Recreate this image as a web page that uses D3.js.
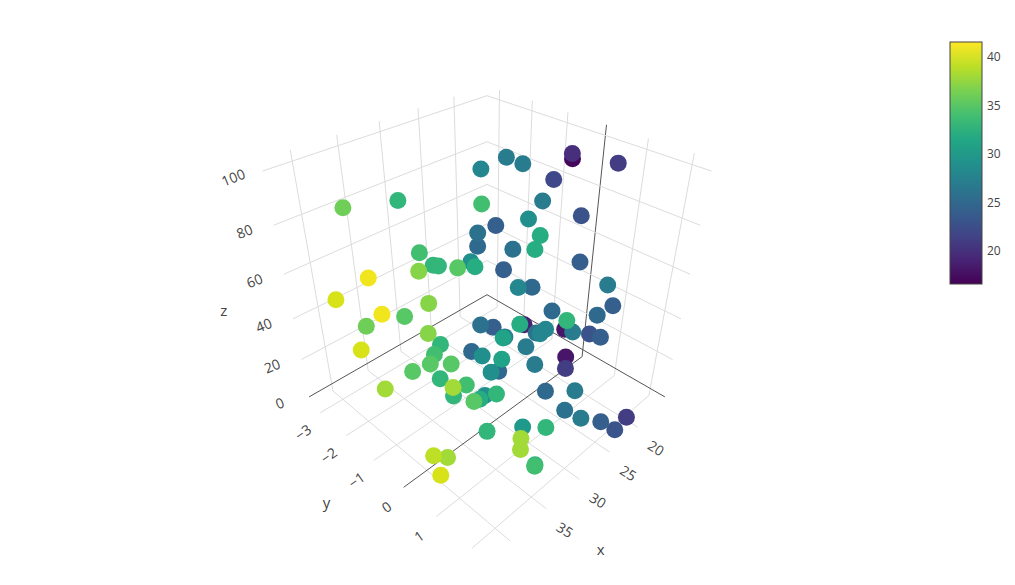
<!DOCTYPE html>
<html><head><meta charset="utf-8">
<script src="https://cdn.jsdelivr.net/npm/d3@7"></script>
<style>body{margin:0;background:#fff}text{font-family:"Open Sans",sans-serif;fill:#444}</style>
</head><body><svg id="c" width="1015" height="585"></svg>
<script>
const xs=[27,20,17,21,22,27,28,33,36,27,23,24,34,26,29,32,25,26,32,34,29,33,33,32,35,37,24,24,41,27,28,25,40,37,41,24,25,25,33,35,32,37,36,28,27,28,26,24,31,19,26,23,24,18,40,33,27,27,34,29,31,25,35,35,27,18,35,38,29,21,33,34,33,25,27,35,38,33,32,25,29,38,33,38,26,27,24,23,21,33,30,34,33,39,38,40];
const ys=[-0.41,-0.01,-0.47,1.2,-0.1,0,-0.87,-2.16,-3.2,0.51,0.79,-1.27,0.41,-1.4,0.55,1.36,-1.62,-0.38,1.26,-1.33,-0.97,-1.18,-1.02,-0.2,0,-0.6,-1.02,1.01,-1.0,2.1,0.17,0,-2.6,-0.37,-0.7,1.87,0.57,1.68,2.2,-1.71,0.98,-0.44,-2.9,0.93,1.44,0.8,-1.33,-1.33,0.37,-1.26,0.35,1.27,1.68,-0.15,-1.9,-1.08,-0.36,0.26,-1.05,-0.65,0.34,-1.87,-0.28,-0.95,0.53,-0.05,-1.59,0.46,-0.37,0.43,-1.15,-0.07,0.6,-0.93,1.63,0.37,-1.81,-0.72,-0.1,0.54,-0.57,2.2,1.92,2.2,1.27,1.85,1.95,2.2,2.2,0.33,0.8,1.87,1.71,0.0,0.2,0.45];
const zs=[103,98.6,90.7,103,90.7,103,97.4,84,78.4,93,84,67.2,100.8,66,89.6,94,57,66.6,88.5,70.6,61.6,65,66,70.6,76.8,74,49.3,68.9,75,74,58.2,51.5,50.4,63.3,63.5,58.2,45.9,54.4,72.8,41.4,57.7,50,27.3,47,48.8,43.7,23,17.9,43.7,9.9,35.5,38,42.6,16.2,34,30.2,28.6,30,27.7,20.2,33.6,1.1,33.6,26.3,24.1,1.9,15.5,38,14.9,7.3,12,23.5,24.5,0,23.5,23,10.9,7.8,11,5.6,0,37,24.6,32,6.7,12.3,3.9,0,1.5,1.8,2.2,7.4,2.9,1,0,0];
const xTicks=[20,25,30,35,40], yTicks=[-3,-2,-1,0,1,2], zTicks=[0,20,40,60,80,100], cTicks=[20,25,30,35,40];
const xLabels=[20,25,30,35], yLabels=[-3,-2,-1,0,1];
const xR=[15,43], yR=[-3.4,2.4], zR=[-4,104], cR=[16.6,41.5];

const svg=d3.select("#c");
const nx=d3.scaleLinear().domain(xR).range([-1,1]);
const ny=d3.scaleLinear().domain(yR).range([-1,1]);
const nz=d3.scaleLinear().domain(zR).range([-1.05,1.05]);
const E=[2.8,2.8,2.8];
const f=[-1,-1,-1].map(v=>v/Math.sqrt(3)), r=[-1/Math.SQRT2,1/Math.SQRT2,0], u=[-1,-1,2].map(v=>v/Math.sqrt(6));
const dot=(a,b)=>a[0]*b[0]+a[1]*b[1]+a[2]*b[2];
function raw(x,y,z){const d=[nx(x)-E[0],ny(y)-E[1],nz(z)-E[2]];const cz=dot(d,f);return [dot(d,r)/cz,dot(d,u)/cz,cz];}
const A=raw(xR[0],yR[0],zR[1]), B=raw(xR[1],yR[0],zR[0]);
const S=(404-86)/(A[1]-B[1]), OY=86+S*A[1], OX=487;
function P(x,y,z){const q=raw(x,y,z);return [OX+S*q[0],OY-S*q[1],q[2]];}
const line=(a,b,col,w)=>svg.append("line").attr("x1",a[0]).attr("y1",a[1]).attr("x2",b[0]).attr("y2",b[1]).attr("stroke",col).attr("stroke-width",w);
const G="#dcdcdc", Z="#555";
xTicks.forEach(t=>{line(P(t,yR[0],zR[0]),P(t,yR[0],zR[1]),G,1);line(P(t,yR[0],zR[0]),P(t,yR[1],zR[0]),G,1);});
yTicks.forEach(t=>{const c=t===0?Z:G;line(P(xR[0],t,zR[0]),P(xR[0],t,zR[1]),c,1);line(P(xR[0],t,zR[0]),P(xR[1],t,zR[0]),c,1);});
zTicks.forEach(t=>{const c=t===0?Z:G;line(P(xR[0],yR[0],t),P(xR[1],yR[0],t),c,1);line(P(xR[0],yR[0],t),P(xR[0],yR[1],t),c,1);});
const ctr=P((xR[0]+xR[1])/2,(yR[0]+yR[1])/2,(zR[0]+zR[1])/2);
function tick(pt,edgeA,edgeB,txt,dist,rot,size){
  const dx=edgeB[0]-edgeA[0],dy=edgeB[1]-edgeA[1];let a=-dy,b=dx;const L=Math.hypot(a,b);a/=L;b/=L;
  const m=[(edgeA[0]+edgeB[0])/2,(edgeA[1]+edgeB[1])/2];
  if((ctr[0]-m[0])*a+(ctr[1]-m[1])*b>0){a=-a;b=-b;}
  const X=pt[0]+a*dist,Y=pt[1]+b*dist;
  svg.append("text").attr("x",X).attr("y",Y).attr("text-anchor","middle").attr("dominant-baseline","central")
   .attr("font-size",size).attr("transform",`rotate(${rot},${X},${Y})`).text(txt);
}
const fmt=v=>v<0?"\u2212"+(-v):String(v);
const ex=[P(xR[0],yR[1],zR[0]),P(xR[1],yR[1],zR[0])];
xLabels.forEach(t=>tick(P(t,yR[1],zR[0]),ex[0],ex[1],fmt(t),28,32,14));
tick(P(33.5,yR[1],zR[0]),ex[0],ex[1],"x",66,0,15);
const ey=[P(xR[1],yR[0],zR[0]),P(xR[1],yR[1],zR[0])];
yLabels.forEach(t=>tick(P(xR[1],t,zR[0]),ey[0],ey[1],fmt(t),26,-35,14));
tick(P(xR[1],-1.2,zR[0]),ey[0],ey[1],"y",62,0,15);
const ez=[P(xR[1],yR[0],zR[0]),P(xR[1],yR[0],zR[1])];
zTicks.forEach(t=>tick(P(xR[1],yR[0],t),ez[0],ez[1],fmt(t),30,-22,14));
tick(P(xR[1],yR[0],50),ez[0],ez[1],"z",66,0,15);
const col=d3.scaleSequential(d3.interpolateViridis).domain(cR);
const pts=xs.map((x,i)=>{const p=P(x,ys[i],zs[i]);return {p,c:col(x)};}).sort((a,b)=>b.p[2]-a.p[2]);
svg.append("g").selectAll("circle").data(pts).join("circle").attr("cx",d=>d.p[0]).attr("cy",d=>d.p[1]).attr("r",8.5).attr("fill",d=>d.c);
const cy=d3.scaleLinear().domain(cR).range([284,42]);
const gr=svg.append("defs").append("linearGradient").attr("id","g").attr("x1",0).attr("y1",1).attr("x2",0).attr("y2",0);
d3.range(0,1.01,0.1).forEach(t=>gr.append("stop").attr("offset",t).attr("stop-color",d3.interpolateViridis(t)));
svg.append("rect").attr("x",950).attr("y",42).attr("width",32).attr("height",242).attr("fill","url(#g)").attr("stroke","#444").attr("stroke-width",1);
const cb=svg.append("g").attr("transform","translate(982,0)").call(d3.axisRight(cy).tickValues(cTicks).tickSize(0).tickPadding(5));
cb.select(".domain").remove();cb.selectAll("text").attr("font-size",12).style("font-family","Open Sans").attr("fill","#444");
</script></body></html>
